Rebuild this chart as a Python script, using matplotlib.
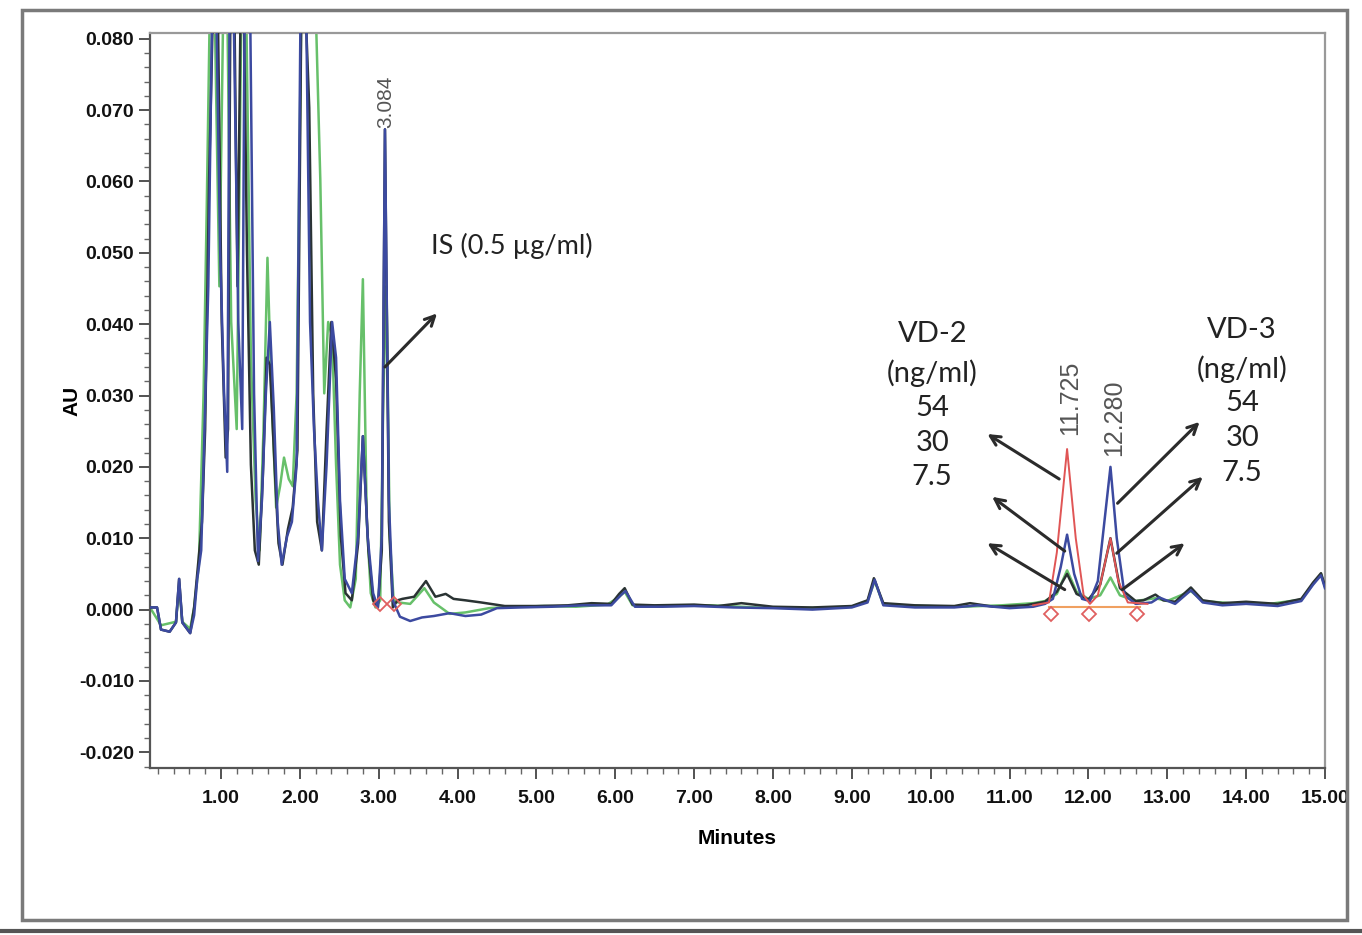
import matplotlib
matplotlib.use('Agg')
import matplotlib.pyplot as plt
from matplotlib import font_manager
from matplotlib.patches import Rectangle
from matplotlib.lines import Line2D
from matplotlib.ticker import MultipleLocator, FormatStrFormatter

# DATA ---------------------------------------------------------------------------------------------
# chromatogram traces (time in minutes, absorbance in AU)
blue_t = [0.10, 0.19, 0.24, 0.35, 0.43, 0.47, 0.51, 0.61, 0.66, 0.70, 0.75, 0.78, 0.84, 0.89, 0.94,
          0.99, 1.04, 1.08, 1.11, 1.16, 1.22, 1.27, 1.30, 1.37, 1.42, 1.47, 1.52, 1.57, 1.62, 1.67,
          1.72, 1.77, 1.84, 1.90, 1.96, 2.01, 2.08, 2.13, 2.18, 2.23, 2.28, 2.34, 2.41, 2.46, 2.51,
          2.57, 2.66, 2.74, 2.80, 2.86, 2.93, 2.99, 3.04, 3.08, 3.13, 3.18, 3.27, 3.40, 3.55, 3.70,
          3.90, 4.10, 4.30, 4.50, 4.80, 5.20, 5.60, 5.95, 6.07, 6.13, 6.25, 6.60, 7.00, 7.50, 8.00,
          8.50, 9.00, 9.20, 9.29, 9.40, 9.80, 10.30, 10.60, 11.00, 11.30, 11.45, 11.55, 11.65, 11.73,
          11.82, 11.92, 12.02, 12.12, 12.20, 12.28, 12.36, 12.46, 12.60, 12.80, 12.90, 13.10, 13.30,
          13.45, 13.70, 14.00, 14.40, 14.70, 14.85, 14.95, 15.00]
blue_v = [0.0003, 0.0003, -0.0028, -0.0031, -0.0018, 0.0043, -0.0018, -0.0033, -0.0008, 0.0043,
          0.0083, 0.0203, 0.0453, 0.085, 0.085, 0.0503, 0.0303, 0.0193, 0.085, 0.085, 0.0403, 0.0253,
          0.085, 0.085, 0.0303, 0.0068, 0.0153, 0.0303, 0.0403, 0.0283, 0.0123, 0.0063, 0.0103, 0.0123,
          0.0203, 0.085, 0.085, 0.0403, 0.0253, 0.0153, 0.0083, 0.0203, 0.0403, 0.0353, 0.0153, 0.0043,
          0.0023, 0.0103, 0.0243, 0.0103, 0.0023, 0.0003, 0.0103, 0.0673, 0.0153, 0.0013, -0.0010,
          -0.0016, -0.0011, -0.0009, -0.0005, -0.0009, -0.0007, 0.0002, 0.0003, 0.0004, 0.0006, 0.0006,
          0.0020, 0.0026, 0.0004, 0.0004, 0.0005, 0.0003, 0.0002, 0.0000, 0.0003, 0.0010, 0.0042,
          0.0006, 0.0003, 0.0003, 0.0006, 0.0002, 0.0004, 0.0008, 0.0015, 0.0060, 0.0105, 0.0050,
          0.0015, 0.0012, 0.0040, 0.0120, 0.0200, 0.0100, 0.0020, 0.0008, 0.0010, 0.0017, 0.0008,
          0.0027, 0.0010, 0.0006, 0.0008, 0.0005, 0.0012, 0.0035, 0.0048, 0.0030]

dark_t = [0.10, 0.19, 0.24, 0.35, 0.43, 0.47, 0.51, 0.61, 0.66, 0.71, 0.76, 0.80, 0.85, 0.90, 0.96,
          1.01, 1.06, 1.09, 1.12, 1.17, 1.21, 1.25, 1.29, 1.33, 1.38, 1.43, 1.48, 1.53, 1.58, 1.62,
          1.68, 1.73, 1.78, 1.85, 1.91, 1.97, 2.02, 2.07, 2.12, 2.17, 2.22, 2.28, 2.34, 2.40, 2.46,
          2.52, 2.58, 2.66, 2.74, 2.80, 2.87, 2.93, 2.99, 3.04, 3.08, 3.13, 3.18, 3.24, 3.30, 3.45,
          3.60, 3.72, 3.85, 3.95, 4.10, 4.30, 4.60, 5.00, 5.40, 5.70, 5.95, 6.05, 6.12, 6.22, 6.50,
          7.00, 7.30, 7.60, 8.00, 8.50, 9.00, 9.20, 9.28, 9.40, 9.80, 10.30, 10.50, 10.80, 11.20,
          11.45, 11.60, 11.73, 11.85, 12.00, 12.15, 12.28, 12.40, 12.60, 12.70, 12.85, 12.95, 13.10,
          13.30, 13.45, 13.70, 14.00, 14.40, 14.70, 14.85, 14.95, 15.00]
dark_v = [0.0003, 0.0003, -0.0028, -0.0031, -0.0018, 0.0043, -0.0018, -0.0033, 0.0003, 0.0063,
          0.0123, 0.0253, 0.0603, 0.085, 0.085, 0.0403, 0.0213, 0.0253, 0.085, 0.085, 0.0453, 0.085,
          0.085, 0.0503, 0.0203, 0.0083, 0.0063, 0.0183, 0.0353, 0.0343, 0.0203, 0.0093, 0.0063, 0.0113,
          0.0143, 0.0223, 0.085, 0.085, 0.0703, 0.0303, 0.0123, 0.0083, 0.0253, 0.0403, 0.0323, 0.0103,
          0.0023, 0.0013, 0.0093, 0.0243, 0.0083, 0.0013, 0.0003, 0.0083, 0.0673, 0.0123, 0.0003,
          0.0013, 0.0015, 0.0018, 0.0040, 0.0018, 0.0022, 0.0015, 0.0013, 0.0010, 0.0005, 0.0005,
          0.0006, 0.0009, 0.0008, 0.0022, 0.0030, 0.0007, 0.0006, 0.0007, 0.0005, 0.0009, 0.0004,
          0.0003, 0.0005, 0.0013, 0.0044, 0.0009, 0.0006, 0.0005, 0.0009, 0.0004, 0.0006, 0.0011,
          0.0025, 0.0050, 0.0022, 0.0014, 0.0035, 0.0100, 0.0030, 0.0012, 0.0013, 0.0021, 0.0013,
          0.0011, 0.0031, 0.0013, 0.0009, 0.0011, 0.0008, 0.0015, 0.0038, 0.0051, 0.0033]

green_t = [0.10, 0.24, 0.43, 0.47, 0.51, 0.61, 0.66, 0.72, 0.78, 0.82, 0.86, 0.92, 0.98, 1.03, 1.08,
           1.13, 1.20, 1.26, 1.32, 1.38, 1.44, 1.49, 1.54, 1.59, 1.64, 1.70, 1.75, 1.80, 1.86, 1.91,
           1.96, 2.02, 2.08, 2.14, 2.20, 2.26, 2.31, 2.36, 2.41, 2.46, 2.51, 2.57, 2.64, 2.71, 2.76,
           2.80, 2.85, 2.90, 2.96, 3.02, 3.06, 3.10, 3.14, 3.19, 3.25, 3.40, 3.58, 3.70, 3.90, 4.10,
           4.40, 4.70, 5.10, 5.50, 5.90, 6.05, 6.12, 6.22, 6.60, 7.20, 7.80, 8.40, 9.00, 9.20, 9.29,
           9.40, 9.90, 10.40, 10.90, 11.30, 11.45, 11.60, 11.73, 11.85, 12.00, 12.15, 12.28, 12.40,
           12.60, 12.85, 13.00, 13.30, 13.45, 13.80, 14.30, 14.70, 14.85, 14.95, 15.00]
green_v = [0.0003, -0.0022, -0.0017, 0.0033, -0.0017, -0.0027, 0.0003, 0.0063, 0.0303, 0.0563,
           0.085, 0.085, 0.0453, 0.085, 0.085, 0.0403, 0.0253, 0.085, 0.085, 0.0353, 0.0153, 0.0083,
           0.0253, 0.0493, 0.0303, 0.0143, 0.0173, 0.0213, 0.0183, 0.0173, 0.0303, 0.085, 0.085, 0.085,
           0.085, 0.0603, 0.0303, 0.0403, 0.0383, 0.0203, 0.0063, 0.0013, 0.0003, 0.0043, 0.0303,
           0.0463, 0.0123, 0.0023, 0.0003, 0.0013, 0.0303, 0.0453, 0.0103, 0.0013, 0.0010, 0.0008,
           0.0030, 0.0010, -0.0006, -0.0004, 0.0002, 0.0004, 0.0005, 0.0004, 0.0007, 0.0018, 0.0025,
           0.0006, 0.0005, 0.0006, 0.0003, 0.0002, 0.0004, 0.0012, 0.0040, 0.0007, 0.0005, 0.0004,
           0.0006, 0.0009, 0.0012, 0.0022, 0.0055, 0.0025, 0.0015, 0.0020, 0.0045, 0.0020, 0.0012,
           0.0016, 0.0012, 0.0026, 0.0012, 0.0009, 0.0008, 0.0014, 0.0036, 0.0050, 0.0032]

red_t = [11.30, 11.50, 11.60, 11.73, 11.84, 11.94, 12.02, 12.12, 12.20, 12.28, 12.38, 12.50, 12.75]
red_v = [0.0006, 0.0010, 0.0080, 0.0225, 0.0100, 0.0020, 0.0008, 0.0020, 0.0060, 0.0100, 0.0040,
         0.0010, 0.0008]

# integration marks
int_marks_t = [11.53, 12.01, 12.62]
int_marks_v = [-0.0006, -0.0006, -0.0006]
is_marks_t = [3.02, 3.20]
is_marks_v = [0.0008, 0.0008]
int_base_t = [11.50, 12.65]
int_base_v = [0.0004, 0.0004]

# peak retention time labels
peak_labels = ['3.084', '11.725', '12.280']
peak_label_t = [3.09, 11.77, 12.33]
peak_label_v = [0.0675, 0.0245, 0.0215]
peak_label_size = [15, 18, 18]

# annotation texts and arrows
is_text = 'IS (0.5 \u00b5g/ml)'
is_arrow = ((3.08, 0.0340), (3.74, 0.0415))
vd2_lines = ['VD-2', '(ng/ml)', '54', '30', '7.5']
vd3_lines = ['VD-3', '(ng/ml)', '54', '30', '7.5']
vd2_arrows = [((11.63, 0.0183), (10.72, 0.0246)),
              ((11.70, 0.0082), (10.78, 0.0158)),
              ((11.70, 0.0028), (10.72, 0.0093))]
vd3_arrows = [((12.37, 0.0149), (13.41, 0.0263)),
              ((12.36, 0.0079), (13.45, 0.0186)),
              ((12.43, 0.0028), (13.22, 0.0093))]
# --------------------------------------------------------------------------------------------------

plt.rcParams['axes.unicode_minus'] = False
installed = {f.name for f in font_manager.fontManager.ttflist}
tick_font = ['Liberation Sans Narrow', 'Liberation Sans', 'DejaVu Sans']
tick_font = [f for f in tick_font if f in installed] or ['DejaVu Sans']
narrow = tick_font[0] == 'Liberation Sans Narrow'
tick_size = 16 if narrow else 14
note_font = ['Lato', 'DejaVu Sans']

fig = plt.figure(figsize=(13.62, 9.35), dpi=100)
fig.patch.set_facecolor('white')

# outer frame of the screenshot
fig.add_artist(Rectangle((0.0162, 0.016), 0.973, 0.973, transform=fig.transFigure,
                         fill=False, edgecolor='#7a7a7a', lw=2.5))
fig.add_artist(Line2D([0, 1], [0.004, 0.004], transform=fig.transFigure, color='#555555', lw=3))

ax = fig.add_axes([0.1101, 0.1786, 0.8627, 0.7861])

ax.plot(green_t, green_v, color='#67c06a', lw=1.8, zorder=2)
ax.plot(dark_t, dark_v, color='#2a3333', lw=1.8, zorder=3)
ax.plot(blue_t, blue_v, color='#3c4aa0', lw=1.8, zorder=4)
ax.plot(red_t, red_v, color='#e05555', lw=1.4, zorder=5)

ax.plot(int_base_t, int_base_v, color='#f0a060', lw=1.5, zorder=5)
ax.plot(int_marks_t, int_marks_v, linestyle='none', marker='D', markersize=7,
        markerfacecolor='none', markeredgecolor='#e06060', markeredgewidth=1.3, zorder=6)
ax.plot(is_marks_t, is_marks_v, linestyle='none', marker='D', markersize=7,
        markerfacecolor='none', markeredgecolor='#e06060', markeredgewidth=1.3, zorder=6)

for lab, t, v, fs in zip(peak_labels, peak_label_t, peak_label_v, peak_label_size):
    ax.text(t, v, lab, rotation=90, ha='center', va='bottom', fontsize=fs,
            color='#555555', family=tick_font, zorder=7)

arrow_style = dict(arrowstyle='->, head_length=0.7, head_width=0.35', color='#2b2b2b', lw=2.2,
                   shrinkA=0, shrinkB=0)
for tail, head in [is_arrow] + vd2_arrows + vd3_arrows:
    ax.annotate('', xy=head, xytext=tail, arrowprops=arrow_style, zorder=8)

ax.text(3.67, 0.0509, is_text, fontsize=19.5, family=note_font, color='#222222',
        ha='left', va='center')

line_v = [0.0386, 0.0331, 0.0283, 0.0234, 0.0186]
for i, s in enumerate(vd2_lines):
    ax.text(10.02, line_v[i], s, fontsize=21, family=note_font, color='#222222',
            ha='center', va='center')
for i, s in enumerate(vd3_lines):
    ax.text(13.95, line_v[i] + 0.0006, s, fontsize=21, family=note_font, color='#222222',
            ha='center', va='center')

ax.set_xlim(0.1, 15.0)
ax.set_ylim(-0.0222, 0.0808)

ax.xaxis.set_major_locator(MultipleLocator(1.0))
ax.xaxis.set_minor_locator(MultipleLocator(0.2))
ax.xaxis.set_major_formatter(FormatStrFormatter('%.2f'))
ax.yaxis.set_major_locator(MultipleLocator(0.010))
ax.yaxis.set_minor_locator(MultipleLocator(0.002))
ax.yaxis.set_major_formatter(FormatStrFormatter('%.3f'))

ax.tick_params(which='major', length=8, width=1.3, color='#444444', direction='out')
ax.tick_params(axis='x', which='major', pad=8)
ax.tick_params(which='minor', length=4, width=1.0, color='#666666', direction='out')
for lab in ax.get_xticklabels() + ax.get_yticklabels():
    lab.set_family(tick_font)
    lab.set_fontweight('bold')
    lab.set_fontsize(tick_size)
    lab.set_color('#111111')

for side in ['left', 'bottom']:
    ax.spines[side].set_color('#555555')
    ax.spines[side].set_linewidth(1.6)
for side in ['top', 'right']:
    ax.spines[side].set_color('#999999')
    ax.spines[side].set_linewidth(1.6)

ax.set_xlabel('Minutes', family=tick_font, fontweight='bold', fontsize=tick_size + 1, labelpad=16)
ax.set_ylabel('AU', family=tick_font, fontweight='bold', fontsize=tick_size + 1)
ax.yaxis.set_label_coords(-0.058, 0.5)

fig.savefig('out.png', dpi=100, facecolor='white')
